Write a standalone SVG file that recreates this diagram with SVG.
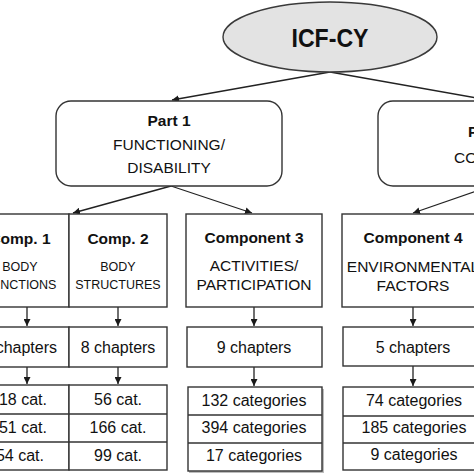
<svg xmlns="http://www.w3.org/2000/svg" width="474" height="474" viewBox="0 0 474 474">
<defs>
<marker id="ah" viewBox="0 0 10 10" refX="10" refY="5" markerWidth="7" markerHeight="7" markerUnits="userSpaceOnUse" orient="auto">
<path d="M0,0 L10,5 L0,10 Z" fill="#1a1a1a"/>
</marker>
<style>
.box{fill:#fff;stroke:#333;stroke-width:1.4}
.ln{fill:none;stroke:#222;stroke-width:1.3;marker-end:url(#ah)}
text{font-family:"Liberation Sans",Arial,sans-serif;fill:#111;text-anchor:middle}
.b{font-weight:bold;font-size:15.5px}
.t{font-size:15.5px}
.s{font-size:12.5px}
.n{font-size:16px}
</style>
</defs>
<rect width="474" height="474" fill="#fff"/>

<g id="connectors">
<line class="ln" x1="330" y1="72" x2="172" y2="100"/>
<line class="ln" x1="330" y1="72" x2="488" y2="100"/>
<line class="ln" x1="171" y1="186" x2="73" y2="213"/>
<line class="ln" x1="171" y1="186" x2="252" y2="213"/>
<line class="ln" x1="491" y1="186" x2="413" y2="213"/>
<line class="ln" x1="27" y1="307" x2="27" y2="326"/>
<line class="ln" x1="118" y1="307" x2="118" y2="326"/>
<line class="ln" x1="254" y1="307" x2="254" y2="326"/>
<line class="ln" x1="413" y1="307" x2="413" y2="326"/>
<line class="ln" x1="27" y1="367" x2="27" y2="384"/>
<line class="ln" x1="118" y1="367" x2="118" y2="384"/>
<line class="ln" x1="254" y1="367" x2="254" y2="386"/>
<line class="ln" x1="413" y1="366" x2="413" y2="386"/>
</g>

<g id="icfcy">
<ellipse cx="330" cy="37" rx="107" ry="35" fill="#e3e3e3" stroke="#3a3a3a" stroke-width="1.4"/>
<text x="330" y="47" style="font-weight:bold;font-size:25px" textLength="77" lengthAdjust="spacingAndGlyphs">ICF-CY</text>
</g>

<g id="part1">
<rect class="box" x="56" y="101" width="226" height="85" rx="15"/>
<text class="b" x="169" y="126">Part 1</text>
<text class="t" x="169" y="150">FUNCTIONING/</text>
<text class="t" x="169" y="173">DISABILITY</text>
</g>

<g id="part2">
<rect class="box" x="378" y="101" width="226" height="85" rx="15"/>
<text class="b" x="468" y="137" style="text-anchor:start">Part 2</text>
<text class="t" x="454" y="163" style="text-anchor:start">CONTEXTUAL FACTORS</text>
</g>

<g id="comp1">
<rect class="box" x="-29" y="214" width="98" height="93"/>
<text class="b" x="20" y="244">Comp. 1</text>
<text class="s" x="20" y="271">BODY</text>
<text class="s" x="20" y="289">FUNCTIONS</text>
</g>

<g id="comp2">
<rect class="box" x="69" y="214" width="98" height="93"/>
<text class="b" x="118" y="244">Comp. 2</text>
<text class="s" x="118" y="271">BODY</text>
<text class="s" x="118" y="289">STRUCTURES</text>
</g>

<g id="comp3">
<rect class="box" x="186" y="214" width="136" height="93"/>
<text class="b" x="254" y="243">Component 3</text>
<text class="t" x="254" y="271">ACTIVITIES/</text>
<text class="t" x="254" y="290">PARTICIPATION</text>
</g>

<g id="comp4">
<rect class="box" x="342" y="214" width="142" height="93"/>
<text class="b" x="413" y="243">Component 4</text>
<text class="t" x="413" y="272">ENVIRONMENTAL</text>
<text class="t" x="413" y="291">FACTORS</text>
</g>

<g id="chapters1">
<rect class="box" x="-29" y="327" width="98" height="40"/>
<text class="n" x="57" y="353" style="text-anchor:end">8 chapters</text>
</g>
<g id="chapters2">
<rect class="box" x="69" y="327" width="98" height="40"/>
<text class="n" x="118" y="353">8 chapters</text>
</g>
<g id="chapters3">
<rect class="box" x="187" y="327" width="135" height="40"/>
<text class="n" x="254" y="353">9 chapters</text>
</g>
<g id="chapters4">
<rect class="box" x="343" y="327" width="141" height="39"/>
<text class="n" x="413" y="353">5 chapters</text>
</g>

<g id="cats1">
<rect class="box" x="-29" y="385" width="98" height="85"/>
<line x1="-29" y1="414" x2="69" y2="414" stroke="#333" stroke-width="1.4"/>
<line x1="-29" y1="442" x2="69" y2="442" stroke="#333" stroke-width="1.4"/>
<text class="n" x="47" y="405" style="text-anchor:end">18 cat.</text>
<text class="n" x="47" y="433" style="text-anchor:end">51 cat.</text>
<text class="n" x="44" y="461" style="text-anchor:end">54 cat.</text>
</g>
<g id="cats2">
<rect class="box" x="69" y="385" width="98" height="85"/>
<line x1="69" y1="414" x2="167" y2="414" stroke="#333" stroke-width="1.4"/>
<line x1="69" y1="442" x2="167" y2="442" stroke="#333" stroke-width="1.4"/>
<text class="n" x="118" y="405">56 cat.</text>
<text class="n" x="118" y="433">166 cat.</text>
<text class="n" x="118" y="461">99 cat.</text>
</g>
<g id="cats3">
<rect x="189" y="389" width="135" height="84" fill="#bdbdbd"/>
<rect class="box" x="188" y="387" width="134" height="84"/>
<line x1="188" y1="415" x2="322" y2="415" stroke="#333" stroke-width="1.4"/>
<line x1="188" y1="443" x2="322" y2="443" stroke="#333" stroke-width="1.4"/>
<text class="n" x="254" y="406">132 categories</text>
<text class="n" x="254" y="433">394 categories</text>
<text class="n" x="254" y="461">17 categories</text>
</g>
<g id="cats4">
<rect class="box" x="343" y="387" width="141" height="83"/>
<line x1="343" y1="416" x2="484" y2="416" stroke="#333" stroke-width="1.4"/>
<line x1="343" y1="443" x2="484" y2="443" stroke="#333" stroke-width="1.4"/>
<text class="n" x="414" y="406">74 categories</text>
<text class="n" x="414" y="433">185 categories</text>
<text class="n" x="414" y="460">9 categories</text>
</g>
</svg>
